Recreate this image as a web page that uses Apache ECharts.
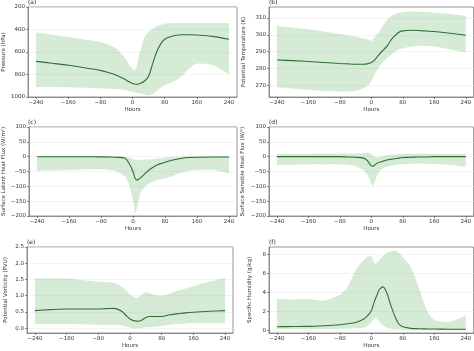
<!DOCTYPE html>
<html>
<head>
<meta charset="utf-8">
<script src="https://cdn.jsdelivr.net/npm/echarts@6/dist/echarts.min.js"></script>
<style>
html, body { margin: 0; padding: 0; background: #fff; }
#chart { width: 474px; height: 351px; }
</style>
</head>
<body>
<div id="chart"></div>
<script>
// hours relative to event
const hours = [-240, -200, -160, -120, -80, -60, -40, -20, -10, 0, 5, 10, 15, 20, 30, 40, 50, 60, 70, 80, 100, 120, 140, 160, 200, 240];
const xTicks = [-240, -160, -80, 0, 80, 160, 240];

// (a) pressure
const pressMean = [683, 700, 718, 740, 763, 783, 807, 840, 862, 881, 885, 887, 884, 878, 858, 815, 705, 600, 530, 487, 458, 447, 446, 449, 461, 487];
const pressMin  = [425, 447, 467, 488, 511, 535, 570, 644, 704, 748, 763, 733, 650, 585, 467, 422, 395, 372, 358, 348, 344, 342, 342, 342, 342, 343];
const pressMax  = [911, 912, 914, 918, 923, 926, 930, 938, 945, 955, 958, 962, 966, 970, 978, 985, 975, 945, 920, 896, 867, 822, 750, 704, 718, 799];

// (b) potential temperature
const thetaMean = [285.0, 284.6, 284.1, 283.5, 282.9, 282.7, 282.5, 282.5, 282.7, 283.5, 284.3, 285.4, 286.9, 288.4, 290.8, 293.2, 296.9, 299.5, 301.5, 302.3, 302.7, 302.5, 302.2, 301.9, 300.9, 299.7];
const thetaMax  = [305.2, 304.2, 303.3, 301.9, 300.5, 299.7, 298.9, 297.9, 297.3, 296.3, 297.5, 299.0, 300.5, 301.9, 305.5, 308.8, 311.0, 312.4, 313.0, 313.4, 313.8, 313.7, 313.5, 313.2, 312.4, 311.2];
const thetaMin  = [268.8, 268.0, 267.2, 266.6, 266.2, 266.3, 266.6, 268.2, 269.8, 272.2, 274.8, 277.1, 279.2, 281.1, 284.0, 286.0, 288.2, 290.0, 291.2, 292.0, 292.8, 293.4, 293.3, 293.0, 291.4, 289.4];

// (c) surface latent heat flux
const lhfMean = [-0.5, -0.5, -0.5, -0.5, -0.6, -1, -2, -5, -22, -50, -72, -79, -75, -70, -57, -45, -36, -28, -23, -19, -11, -6, -3, -2, -1, -1];
const lhfMax  = [2, 2, 2, 2, 2, 2, 1, 0, -3, -8, -11, -12, -12, -11, -10, -9, -8, -6, -5, -3, -1, 0, 1, 1, 1, 1];
const lhfMin  = [-48, -46, -45, -43, -42, -45, -50, -67, -96, -147, -190, -175, -140, -118, -102, -90, -84, -79, -76, -73, -65, -54, -48, -45, -45, -56];

// (d) surface sensible heat flux
const shfMean = [0, 0, 0, 0, 0, -1, -2, -5, -13, -31, -32, -26, -22, -19, -15, -11, -9, -7, -5, -3, -2, -1, -1, 0, 0, 0];
const shfMax  = [10, 10, 10, 11, 11, 11, 11, 12, 14, 8, 1, -1, -2, -1, 2, 5, 7, 8, 9, 10, 10, 10, 10, 10, 10, 10];
const shfMin  = [-28, -27, -26, -26, -26, -28, -32, -45, -62, -90, -98, -80, -62, -52, -40, -34, -31, -29, -27, -26, -24, -23, -24, -25, -28, -34];

// (e) potential vorticity
const pvMean = [0.54, 0.57, 0.59, 0.59, 0.59, 0.60, 0.61, 0.51, 0.39, 0.28, 0.25, 0.23, 0.22, 0.21, 0.25, 0.33, 0.36, 0.36, 0.36, 0.36, 0.41, 0.44, 0.47, 0.49, 0.52, 0.54];
const pvMax  = [1.53, 1.53, 1.53, 1.48, 1.43, 1.42, 1.40, 1.27, 1.17, 1.03, 0.99, 0.96, 0.93, 0.94, 1.03, 1.10, 1.08, 1.03, 1.01, 1.00, 1.06, 1.15, 1.22, 1.29, 1.43, 1.55];
const pvMin  = [0.13, 0.13, 0.13, 0.12, 0.10, 0.10, 0.10, 0.08, 0.05, 0.02, 0.00, -0.01, -0.01, 0.00, 0.01, 0.02, 0.03, 0.04, 0.05, 0.07, 0.10, 0.13, 0.14, 0.16, 0.15, 0.15];

// (f) specific humidity
const qMean = [0.41, 0.43, 0.45, 0.52, 0.62, 0.72, 0.86, 1.2, 1.55, 2.1, 2.7, 3.3, 3.8, 4.3, 4.6, 3.9, 2.6, 1.5, 0.7, 0.4, 0.24, 0.2, 0.18, 0.17, 0.15, 0.14];
const qMax  = [3.33, 3.26, 3.33, 3.16, 3.78, 4.64, 6.36, 7.4, 7.75, 7.85, 7.4, 7.05, 7.2, 7.4, 7.9, 8.2, 8.35, 8.42, 8.2, 7.73, 6.7, 4.64, 2.23, 1.13, 0.93, 1.6];
const qMin  = [0.17, 0.17, 0.17, 0.17, 0.18, 0.2, 0.24, 0.3, 0.45, 0.86, 1.15, 1.37, 1.2, 0.95, 0.55, 0.3, 0.2, 0.15, 0.12, 0.1, 0.09, 0.08, 0.08, 0.08, 0.07, 0.07];

const panels = [
  { letter: '(a)', name: 'Pressure (hPa)', mean: pressMean, lo: pressMin, hi: pressMax, min: 200, max: 1000, ticks: [200, 400, 600, 800, 1000], inverse: true, dec: 0,
    grid: { left: 28, top: 7, width: 209, height: 90 }, gap: 21 },
  { letter: '(b)', name: 'Potential Temperature (K)', mean: thetaMean, lo: thetaMin, hi: thetaMax, min: 263, max: 316.5, ticks: [270, 280, 290, 300, 310], dec: 0,
    grid: { left: 269, top: 7, width: 206, height: 90 }, gap: 22 },
  { letter: '(c)', name: 'Surface Latent Heat Flux (W/m\u00b2)', mean: lhfMean, lo: lhfMin, hi: lhfMax, min: -200, max: 100, ticks: [-200, -150, -100, -50, 0, 50, 100], dec: 0,
    grid: { left: 28, top: 127, width: 209, height: 89 }, gap: 21 },
  { letter: '(d)', name: 'Surface Sensible Heat Flux (W/\u00b2)', mean: shfMean, lo: shfMin, hi: shfMax, min: -200, max: 100, ticks: [-200, -150, -100, -50, 0, 50, 100], dec: 0,
    grid: { left: 269, top: 127, width: 206, height: 89 }, gap: 23 },
  { letter: '(e)', name: 'Potential Vorticity (PVU)', mean: pvMean, lo: pvMin, hi: pvMax, min: -0.15, max: 2.5, ticks: [0, 0.5, 1, 1.5, 2, 2.5], dec: 1,
    grid: { left: 27, top: 247, width: 206, height: 86 }, gap: 18 },
  { letter: '(f)', name: 'Specific Humidity (g/kg)', mean: qMean, lo: qMin, hi: qMax, min: -0.25, max: 8.8, ticks: [0, 2, 4, 6, 8], dec: 0,
    grid: { left: 269, top: 247, width: 206, height: 86 }, gap: 16 }
];

const lineColor = '#2f6f30';
const fillColor = 'rgba(0,128,0,0.16)';
const frameColor = '#7a7a7a';
const textColor = '#333';
const fs = 5.5;
const fmt = (v, d) => v.toFixed(d).replace('-', '\u2212');

// smooth an open run of pixel points (cardinal spline) so the band edges curve like the lines
function smoothPts(pts, steps, s) {
  const out = [];
  for (let i = 0; i < pts.length - 1; i++) {
    const p0 = pts[i - 1] || pts[i], p1 = pts[i], p2 = pts[i + 1], p3 = pts[i + 2] || pts[i + 1];
    const m1 = [(p2[0] - p0[0]) * s, (p2[1] - p0[1]) * s];
    const m2 = [(p3[0] - p1[0]) * s, (p3[1] - p1[1]) * s];
    for (let j = 0; j < steps; j++) {
      const t = j / steps, t2 = t * t, t3 = t2 * t;
      const a = 2 * t3 - 3 * t2 + 1, b = t3 - 2 * t2 + t, c = -2 * t3 + 3 * t2, d = t3 - t2;
      out.push([a * p1[0] + b * m1[0] + c * p2[0] + d * m2[0], a * p1[1] + b * m1[1] + c * p2[1] + d * m2[1]]);
    }
  }
  out.push(pts[pts.length - 1]);
  return out;
}

const grids = [], xAxes = [], yAxes = [], series = [], graphics = [];

panels.forEach((p, i) => {
  grids.push(Object.assign({ show: true, borderColor: frameColor, borderWidth: 0.8, backgroundColor: 'transparent' }, p.grid));
  xAxes.push({
    type: 'value', gridIndex: i, min: -260, max: 260,
    name: 'Hours', nameLocation: 'middle', nameGap: 10,
    nameTextStyle: { fontSize: fs, color: textColor, fontFamily: 'DejaVu Sans' },
    axisLine: { show: true, onZero: false, lineStyle: { color: frameColor, width: 0.8 } },
    axisTick: { show: true, length: 2, customValues: xTicks, lineStyle: { color: '#444', width: 0.6 } },
    axisLabel: { customValues: xTicks, fontSize: fs, color: textColor, margin: 3, fontFamily: 'DejaVu Sans', formatter: v => fmt(v, 0) },
    splitLine: { show: false }
  });
  yAxes.push({
    type: 'value', gridIndex: i, min: p.min, max: p.max, inverse: !!p.inverse,
    name: p.name, nameLocation: 'middle', nameGap: p.gap, nameRotate: 90,
    nameTextStyle: { fontSize: fs, color: textColor, fontFamily: 'DejaVu Sans' },
    axisLine: { show: true, onZero: false, lineStyle: { color: frameColor, width: 0.8 } },
    axisTick: { show: true, length: 2, customValues: p.ticks, lineStyle: { color: '#444', width: 0.6 } },
    axisLabel: { customValues: p.ticks, fontSize: fs, color: textColor, margin: 3, fontFamily: 'DejaVu Sans', formatter: v => fmt(v, p.dec) },
    splitLine: { show: true, lineStyle: { color: '#ececec', width: 0.6 } }
  });
  // min/max envelope as one polygon built through the axis scales
  series.push({
    type: 'custom', xAxisIndex: i, yAxisIndex: i, silent: true, clip: true,
    data: [[0, 0]],
    renderItem: (params, api) => {
      const top = smoothPts(hours.map((h, k) => api.coord([h, p.hi[k]])), 8, 0.35);
      const bottom = smoothPts(hours.map((h, k) => api.coord([h, p.lo[k]])), 8, 0.35).reverse();
      return {
        type: 'polygon',
        shape: { points: top.concat(bottom) },
        style: { fill: fillColor, stroke: null }
      };
    }
  });
  series.push({
    type: 'line', xAxisIndex: i, yAxisIndex: i, symbol: 'none', smooth: 0.3, silent: true,
    data: hours.map((h, k) => [h, p.mean[k]]),
    lineStyle: { color: lineColor, width: 1.1 }
  });
  graphics.push({
    type: 'text', left: p.grid.left, top: p.grid.top - 8,
    style: { text: p.letter, fontSize: 6, fill: '#222', fontFamily: 'DejaVu Sans' }
  });
});

const chart = echarts.init(document.getElementById('chart'), null, { renderer: 'canvas' });
chart.setOption({
  animation: false,
  backgroundColor: '#fff',
  grid: grids,
  xAxis: xAxes,
  yAxis: yAxes,
  series: series,
  graphic: graphics
});
</script>
</body>
</html>
